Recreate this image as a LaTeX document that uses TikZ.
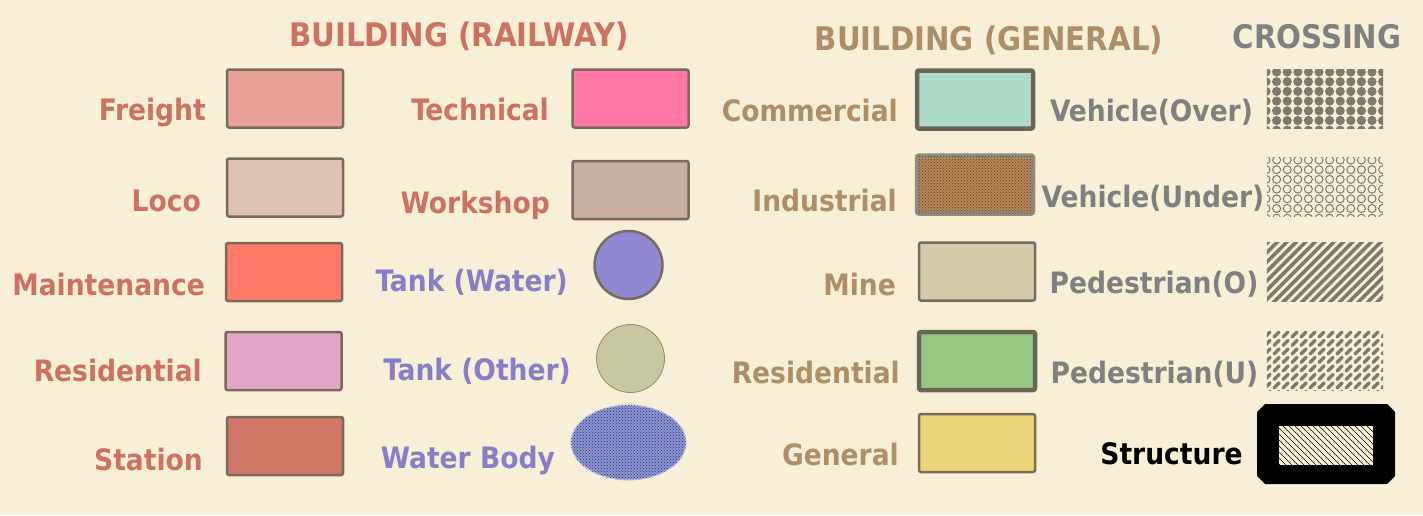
\documentclass[tikz,border=0pt]{standalone}
\usepackage{fontspec}
\setmainfont{DejaVu Sans Condensed}
\usepackage{tikz}
\usetikzlibrary{patterns,shapes.geometric}
\definecolor{paper}{RGB}{248,240,214}
\definecolor{rail-ink}{RGB}{205,114,98}
\definecolor{tank-ink}{RGB}{136,126,200}
\definecolor{gen-ink}{RGB}{174,142,102}
\definecolor{cross-ink}{RGB}{128,128,128}
\definecolor{hatch-ink}{RGB}{126,121,106}
\definecolor{swatch-edge}{RGB}{122,106,92}
\definecolor{heavy-edge}{RGB}{106,101,86}
\definecolor{freight-fill}{RGB}{232,160,152}
\definecolor{loco-fill}{RGB}{222,194,182}
\definecolor{maint-fill}{RGB}{255,120,104}
\definecolor{resrail-fill}{RGB}{224,166,198}
\definecolor{station-fill}{RGB}{208,120,104}
\definecolor{tech-fill}{RGB}{255,120,168}
\definecolor{shop-fill}{RGB}{200,176,164}
\definecolor{water-fill}{RGB}{144,136,208}
\definecolor{other-fill}{RGB}{200,200,160}
\definecolor{comm-fill}{RGB}{172,220,200}
\definecolor{ind-fill}{RGB}{184,136,88}
\definecolor{ind-dot}{RGB}{96,62,34}
\definecolor{mine-fill}{RGB}{210,204,170}
\definecolor{resgen-fill}{RGB}{150,200,130}
\definecolor{general-fill}{RGB}{236,212,120}
\definecolor{lake-fill}{RGB}{140,150,206}
\definecolor{lake-dot}{RGB}{34,44,130}
\tikzset{
    swatch-box/.style = {draw=swatch-edge, line width=2.5pt, rectangle, rounded corners=2pt, minimum width=116pt, minimum height=58pt, inner sep=0pt},
    thick-box/.style = {swatch-box, draw=heavy-edge, line width=4.5pt},
    plain-area/.style = {rectangle, minimum width=116pt, minimum height=58pt, inner sep=0pt},
    legend-font/.style = {font=\fontsize{29.5}{32}\selectfont\bfseries, inner sep=0pt},
    rail-label/.style = {legend-font, text=rail-ink, anchor=base east},
    tank-label/.style = {legend-font, text=tank-ink, anchor=base east},
    gen-label/.style = {legend-font, text=gen-ink, anchor=base east},
    cross-label/.style = {legend-font, text=cross-ink, anchor=base},
    head-title/.style = {font=\fontsize{32.5}{35}\selectfont\bfseries, inner sep=0pt, anchor=base},
}
\begin{document}
\begin{tikzpicture}[x=1pt,y=-1pt]
\fill[paper] (0,0) rectangle (1423,515);
\useasboundingbox (0,0) rectangle (1423,515);

\node[head-title, text=rail-ink] (rail-head) at (459,46) {BUILDING (RAILWAY)};
\node[head-title, text=gen-ink] (gen-head) at (989,50) {BUILDING (GENERAL)};
\node[head-title, text=cross-ink] (cross-head) at (1317,48) {CROSSING};

\node[rail-label] (freight-label) at (206,120) {Freight};
\node[rail-label] (loco-label) at (201,211) {Loco};
\node[rail-label] (maint-label) at (205,295) {Maintenance};
\node[rail-label] (resrail-label) at (202,381) {Residential};
\node[rail-label] (station-label) at (203,470) {Station};
\node[swatch-box, fill=freight-fill] (freight-box) at (285,98.5) {};
\node[swatch-box, fill=loco-fill] (loco-box) at (285,187.5) {};
\node[swatch-box, fill=maint-fill] (maint-box) at (284,272) {};
\node[swatch-box, fill=resrail-fill] (resrail-box) at (283.5,361) {};
\node[swatch-box, fill=station-fill] (station-box) at (285,446) {};

\node[rail-label] (tech-label) at (549,120) {Technical};
\node[rail-label] (shop-label) at (550,213) {Workshop};
\node[tank-label] (water-label) at (568,291) {Tank (Water)};
\node[tank-label] (other-label) at (571,380) {Tank (Other)};
\node[tank-label] (lake-label) at (555,468) {Water Body};
\node[swatch-box, fill=tech-fill] (tech-box) at (630.5,98.5) {};
\node[swatch-box, fill=shop-fill] (shop-box) at (630.5,190) {};
\node[circle, draw=swatch-edge, line width=2.5pt, fill=water-fill, minimum size=68pt, inner sep=0pt] (water-tank) at (628.5,265) {};
\node[circle, draw=other-fill!70!black, line width=0.8pt, fill=other-fill, minimum size=68pt, inner sep=0pt] (other-tank) at (630.5,358.5) {};
\node[ellipse, draw=white!75!lake-dot, line width=1.2pt, fill=lake-fill, minimum width=115pt, minimum height=75pt, inner sep=0pt, postaction={pattern=crosshatch dots, pattern color=lake-dot}] (lake) at (628.5,442.5) {};

\node[gen-label] (comm-label) at (898,121) {Commercial};
\node[gen-label] (ind-label) at (897,211) {Industrial};
\node[gen-label] (mine-label) at (896,295) {Mine};
\node[gen-label] (resgen-label) at (900,383) {Residential};
\node[gen-label] (general-label) at (899,465) {General};
\node[thick-box, fill=comm-fill] (comm-box) at (975,99.5) {};
\node[thick-box, draw=hatch-ink!85!white, fill=ind-fill, postaction={pattern=crosshatch dots, pattern color=ind-dot}] (ind-box) at (975,184.5) {};
\node[swatch-box, fill=mine-fill] (mine-box) at (977,271.5) {};
\node[thick-box, fill=resgen-fill] (resgen-box) at (977,361) {};
\node[swatch-box, fill=general-fill] (general-box) at (977,443) {};

\node[cross-label] (over-label) at (1151.5,121) {Vehicle(Over)};
\node[cross-label] (under-label) at (1153,207) {Vehicle(Under)};
\node[cross-label] (pedo-label) at (1154,293) {Pedestrian(O)};
\node[cross-label] (pedu-label) at (1154.5,383) {Pedestrian(U)};
\node[cross-label, text=black] (struct-label) at (1171.5,464) {Structure};
\node[plain-area] (over-area) at (1325,99) {};
\node[plain-area] (under-area) at (1325,187) {};
\node[plain-area] (pedo-area) at (1325,272) {};
\node[plain-area] (pedu-area) at (1325,361) {};

\begin{scope}
\clip (over-area.south west) rectangle (over-area.north east);
\foreach \i in {0,...,11}
    \foreach \j in {0,...,6}
        \fill[hatch-ink] (1266+10.6*\i,72+9.7*\j) circle (4.6pt);
\end{scope}
\begin{scope}
\clip (under-area.south west) rectangle (under-area.north east);
\foreach \i in {0,...,11}
    \foreach \j in {0,...,6}
        \draw[hatch-ink, line width=1pt] (1266+10.6*\i,160+9.7*\j) circle (4pt);
\end{scope}
\begin{scope}
\clip (pedo-area.south west) rectangle (pedo-area.north east);
\foreach \k in {0,...,20}
    \draw[hatch-ink, line width=3.6pt] (1205+9.4*\k,305) -- ++(64,-64);
\end{scope}
\begin{scope}
\clip (pedu-area.south west) rectangle (pedu-area.north east);
\foreach \i in {0,...,13}
    \foreach \j in {0,...,7} {
        \draw[hatch-ink, line width=3.4pt, line cap=round] (1265+9*\i,337+8.5*\j) -- ++(5,-5);
        \fill[hatch-ink] (1270+9*\i,340.5+8.5*\j) circle (1.6pt);
    }
\end{scope}

\fill[black] (1257,412) -- (1265,404) -- (1387,404) -- (1395,412) -- (1395,476) -- (1387,484) -- (1265,484) -- (1257,476) -- cycle;
\node[rectangle, fill=paper, minimum width=94pt, minimum height=39pt, inner sep=0pt] (struct-core) at (1326,445) {};
\begin{scope}
\clip (struct-core.south west) rectangle (struct-core.north east);
\foreach \k in {0,...,26}
    \draw[black, line width=0.6pt] (1225+6*\k,422) -- ++(48,48);
\end{scope}
\end{tikzpicture}
\end{document}
